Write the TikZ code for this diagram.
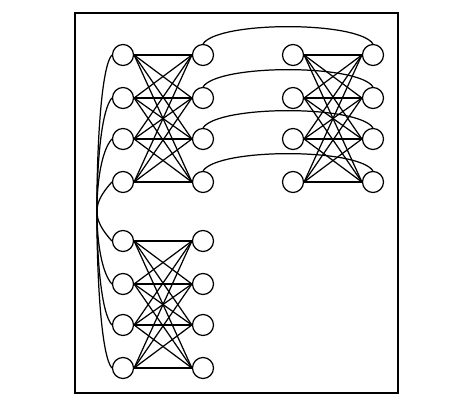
\documentclass[tikz,border=0pt]{standalone}
\usetikzlibrary{positioning}
\tikzset{unit/.style={circle, draw, inner sep=0pt, minimum size=0.42cm},
  link/.style={line width=0.7pt}}

\begin{document}
\begin{tikzpicture}[x=0.02cm, y=-0.02cm, line width=0.7pt]
    \useasboundingbox (0,0) rectangle (474,410);
    \draw[line width=1.3pt] (75,13) rectangle (398,393);

    % three blocks of units
    \foreach \i/\y in {1/55,2/98,3/139,4/182} {
        \node[unit] (inA\i) at (123,\y) {};
        \node[unit] (outA\i) at (203,\y) {};
        \node[unit] (inB\i) at (293,\y) {};
        \node[unit] (outB\i) at (373,\y) {};
        \node[unit] (inC\i) at (123,\y+186) {};
        \node[unit] (outC\i) at (203,\y+186) {};
    }

    % full connections inside each block
    \foreach \i in {1,...,4}
        \foreach \j in {1,...,4} {
            \draw[link] (inA\i.east) -- (outA\j.west);
            \draw[link] (inB\i.east) -- (outB\j.west);
            \draw[link] (inC\i.east) -- (outC\j.west);
        }

    % arcs over to the right block
    \foreach \i in {1,...,4}
        \draw[link] (outA\i.north) .. controls +(15,-23) and +(-15,-23) .. (outB\i.north);

    % curves down the left side
    \foreach \i/\j in {1/4,2/3,3/2,4/1}
        \draw[link] (inA\i.west) .. controls +(-20,22) and +(-20,-22) .. (inC\j.west);
\end{tikzpicture}
\end{document}
